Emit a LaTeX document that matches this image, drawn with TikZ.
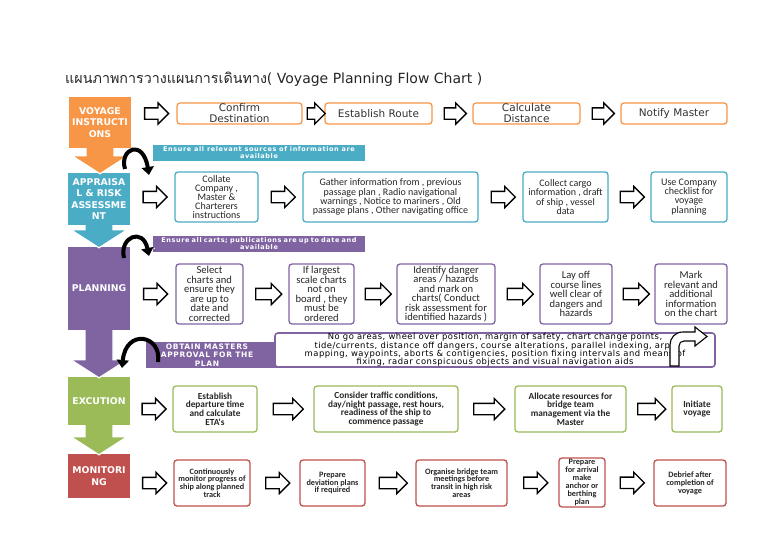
\documentclass[tikz,border=0pt]{standalone}
\usepackage{graphicx}
\usepackage{fontspec}
\setmainfont{DejaVu Sans}
\newfontfamily\thaifont[Script=Thai]{Loma}
\newfontfamily\carl{Carlito}
\newfontfamily\spaced[LetterSpace=9]{DejaVu Sans}
\newfontfamily\spacedb[LetterSpace=6]{DejaVu Sans}
\usetikzlibrary{shapes.arrows,calc,arrows.meta}
\definecolor{cor}{HTML}{F79646}
\definecolor{cte}{HTML}{4BACC6}
\definecolor{cpu}{HTML}{8064A2}
\definecolor{cgr}{HTML}{9BBB59}
\definecolor{cre}{HTML}{C0504D}
\tikzset{
  stage/.style={fill=#1, text=white, font=\bfseries\fontsize{9.3}{11.5}\selectfont, align=center, inner sep=0pt, minimum width=62pt},
  box/.style={draw=#1, fill=white, line width=1.3pt, rounded corners=3pt, align=center, inner sep=0pt, text=black!85},
  band/.style={fill=#1, text=white, align=center, inner sep=0pt, font=\spaced\bfseries\fontsize{6.5}{7}\selectfont},
  barrow/.style={single arrow, draw=black, fill=white, line width=1.3pt, inner xsep=0pt, inner ysep=5pt, single arrow head extend=5pt, minimum height=#1, anchor=center},
  barrow/.default=24pt,
  curv/.style={line width=4pt, -{Triangle[length=8pt,width=12pt]}},
  rA/.style={font=\fontsize{10.5}{11}\selectfont, text=black!80},
  rB/.style={font=\carl\fontsize{10}{9.2}\selectfont},
  rC/.style={font=\carl\fontsize{10.6}{9.5}\selectfont},
  rE/.style={font=\carl\bfseries\fontsize{9.3}{8.8}\selectfont},
  rF/.style={font=\carl\bfseries\fontsize{8.2}{7.9}\selectfont},
}
\newcommand\stagedown[3]{%
  \fill[#3] let \p1=(#1.south), \p2=(#2.north) in
    (\x1-14pt,\y1+0.5pt) -- (\x1-14pt,\y2+17pt) -- (\x1-28pt,\y2+17pt) -- (\x1,\y2-1pt)
    -- (\x1+28pt,\y2+17pt) -- (\x1+14pt,\y2+17pt) -- (\x1+14pt,\y1+0.5pt) -- cycle;
  \draw[white, line width=1.2pt] let \p1=(#1.south), \p2=(#2.north) in
    (\x1-14pt,\y1) -- (\x1-14pt,\y2+17pt) -- (\x1-28pt,\y2+17pt) -- (\x1,\y2-1pt)
    -- (\x1+28pt,\y2+17pt) -- (\x1+14pt,\y2+17pt) -- (\x1+14pt,\y1);
}
\begin{document}
\begin{tikzpicture}[x=1pt,y=-1pt]
\useasboundingbox[fill=white] (0,0) rectangle (768,543);
% title
\node[anchor=base west, inner sep=0pt, text=black!85] (title) at (65,83) {{\thaifont\fontsize{14.3}{17}\selectfont แผนภาพการวางแผนการเดินทาง}{\fontsize{14}{17}\selectfont( Voyage Planning Flow Chart )}};
% stage boxes
\node[stage=cor, minimum height=51pt] (s1) at (100,122.5) {VOYAGE\\INSTRUCTI\\ONS};
\node[stage=cte, minimum height=52pt] (s2) at (99,199) {APPRAISA\\L \& RISK\\ASSESSME\\NT};
\node[stage=cpu, minimum height=83pt] (s3) at (99,288.5) {PLANNING};
\node[stage=cgr, minimum height=48pt] (s4) at (99,401) {EXCUTION};
\node[stage=cre, minimum height=44pt] (s5) at (99,476) {MONITORI\\NG};
\stagedown{s1}{s2}{cor}
\stagedown{s2}{s3}{cte}
\stagedown{s3}{s4}{cpu}
\stagedown{s4}{s5}{cgr}
% row 1
\node[box=cor, rA, minimum width=125pt, minimum height=21pt] (r1a) at (239.5,113.5) {Confirm\\Destination};
\node[box=cor, rA, minimum width=107pt, minimum height=21pt] (r1b) at (378.5,113.5) {Establish Route};
\node[box=cor, rA, minimum width=107pt, minimum height=21pt] (r1c) at (526.5,113.5) {Calculate\\Distance};
\node[box=cor, rA, minimum width=106pt, minimum height=21pt] (r1d) at (674,113.5) {Notify Master};
\node[barrow] (a10) at ($(s1.east |- r1a.west)!0.5!(r1a.west)$) {};
\node[barrow=18pt] (a11) at ($(r1a.east)!0.5!(r1b.west)$) {};
\node[barrow=22pt] (a12) at ($(r1b.east)!0.5!(r1c.west)$) {};
\node[barrow=22pt] (a13) at ($(r1c.east)!0.5!(r1d.west)$) {};
% row 2
\node[band=cte, minimum width=212pt, minimum height=16pt] (b1) at (259,153) {Ensure all relevant sources of information are\\available};
\coordinate (c1s) at (125,169);
\coordinate (c1e) at (149,175);
\draw[curv] (c1s) .. controls (119,149) and (143,138) .. (c1e);
\node[box=cte, rB, minimum width=83pt, minimum height=50pt] (r2a) at (216.5,197) {Collate\\Company ,\\Master \&\\Charterers\\instructions};
\node[box=cte, rB, minimum width=175pt, minimum height=50pt] (r2b) at (390.5,197) {Gather information from , previous\\passage plan , Radio navigational\\warnings , Notice to mariners , Old\\passage plans , Other navigating office};
\node[box=cte, rB, minimum width=85pt, minimum height=50pt] (r2c) at (565.5,197) {Collect cargo\\information , draft\\of ship , vessel\\data};
\node[box=cte, rB, minimum width=76pt, minimum height=50pt] (r2d) at (689,197) {Use Company\\checklist for\\voyage\\planning};
\node[barrow] (a20) at ($(s2.east |- r2a.west)!0.5!(r2a.west)$) {};
\node[barrow] (a21) at ($(r2a.east)!0.5!(r2b.west)$) {};
\node[barrow] (a22) at ($(r2b.east)!0.5!(r2c.west)$) {};
\node[barrow] (a23) at ($(r2c.east)!0.5!(r2d.west)$) {};
% row 3
\node[band=cpu, text width=212pt, minimum height=16pt] (b2) at (259,244) {Ensure all carts; publications are up to date and\\\makebox[\linewidth]{.\hfill available\hfill\phantom{.}}};
\coordinate (c2s) at (124,258);
\coordinate (c2e) at (149,256);
\draw[curv] (c2s) .. controls (119,237) and (143,227) .. (c2e);
\node[box=cpu, rC, minimum width=67pt, minimum height=60pt] (r3a) at (209.5,294) {Select\\charts and\\ensure they\\are up to\\date and\\corrected};
\node[box=cpu, rC, minimum width=65pt, minimum height=60pt] (r3b) at (321.5,294) {If largest\\scale charts\\not on\\board , they\\must be\\ordered};
\node[box=cpu, rC, minimum width=98pt, minimum height=60pt] (r3c) at (446,294) {Identify danger\\areas / hazards\\and mark on\\charts( Conduct\\risk assessment for\\identified hazards )};
\node[box=cpu, rC, minimum width=72pt, minimum height=60pt] (r3d) at (576,294) {Lay off\\course lines\\well clear of\\dangers and\\hazards};
\node[box=cpu, rC, minimum width=72pt, minimum height=60pt] (r3e) at (691,294) {Mark\\relevant and\\additional\\information\\on the chart};
\node[barrow] (a30) at ($(s3.east |- r3a.west)!0.5!(r3a.west)$) {};
\node[barrow=26pt] (a31) at ($(r3a.east)!0.5!(r3b.west)$) {};
\node[barrow=26pt] (a32) at ($(r3b.east)!0.5!(r3c.west)$) {};
\node[barrow=26pt] (a33) at ($(r3c.east)!0.5!(r3d.west)$) {};
\node[barrow=26pt] (a34) at ($(r3d.east)!0.5!(r3e.west)$) {};
% row 4
\node[band=cpu, minimum width=137pt, minimum height=26pt, font=\spaced\bfseries\fontsize{7.5}{8.6}\selectfont] (b3) at (214,355) {OBTAIN MASTERS\hspace*{14pt}\null\\APPROVAL FOR THE\hspace*{14pt}\null\\PLAN\hspace*{14pt}\null};
\node[box=cpu, line width=1.6pt, minimum width=440pt, minimum height=34pt, font=\spacedb\fontsize{8.4}{8.3}\selectfont, text=black] (r4) at (495,350) {No go areas, wheel over position, margin of safety, chart change points,\\tide/currents, distance off dangers, course alterations, parallel indexing, arpa\\mapping, waypoints, aborts \& contigencies, position fixing intervals and means of\\fixing, radar conspicuous objects and visual navigation aids};
\coordinate (c3s) at (158,362);
\coordinate (c3e) at (122,368);
\draw[curv] (c3s) .. controls (162,335) and (126,328) .. (c3e);
\filldraw[fill=white, draw=black, line width=1.1pt] (670,366) -- (670,345) .. controls (670,338) and (675,332) .. (683,332) -- (695,332) -- (695,327) -- (707,336.5) -- (695,346) -- (695,341) -- (684,341) .. controls (681,341) and (679,343) .. (679,346) -- (679,366) -- cycle;
% row 5
\node[box=cgr, rE, minimum width=84pt, minimum height=46pt] (r5a) at (215,409) {Establish\\departure time\\and calculate\\ETA's};
\node[box=cgr, rE, minimum width=144pt, minimum height=46pt] (r5b) at (386,409) {Consider traffic conditions,\\day/night passage, rest hours,\\readiness of the ship to\\commence passage};
\node[box=cgr, rE, minimum width=111pt, minimum height=46pt] (r5c) at (570.5,409) {Allocate resources for\\bridge team\\management via the\\Master};
\node[box=cgr, rE, minimum width=50pt, minimum height=46pt] (r5d) at (697,409) {Initiate\\voyage};
\node[barrow] (a50) at ($(s4.east |- r5a.west)!0.5!(r5a.west)$) {};
\node[barrow=30pt] (a51) at ($(r5a.east)!0.5!(r5b.west)$) {};
\node[barrow=31pt] (a52) at ($(r5b.east)!0.5!(r5c.west)$) {};
\node[barrow=28pt] (a53) at ($(r5c.east)!0.5!(r5d.west)$) {};
% row 6
\node[box=cre, rF, minimum width=76pt, minimum height=46pt] (r6a) at (212,483) {Continuously\\monitor progress of\\ship along planned\\track};
\node[box=cre, rF, minimum width=65pt, minimum height=46pt] (r6b) at (332.5,483) {Prepare\\deviation plans\\if required};
\node[box=cre, rF, minimum width=91pt, minimum height=46pt] (r6c) at (461.5,483) {Organise bridge team\\meetings before\\transit in high risk\\areas};
\node[box=cre, rF, minimum width=46pt, minimum height=49pt] (r6d) at (582,482.5) {Prepare\\for arrival\\make\\anchor or\\berthing\\plan};
\node[box=cre, rF, minimum width=72pt, minimum height=46pt] (r6e) at (690,483) {Debrief after\\completion of\\voyage};
\node[barrow] (a60) at ($(s5.east |- r6a.west)!0.5!(r6a.west)$) {};
\node[barrow] (a61) at ($(r6a.east)!0.5!(r6b.west)$) {};
\node[barrow=28pt] (a62) at ($(r6b.east)!0.5!(r6c.west)$) {};
\node[barrow] (a63) at ($(r6c.east)!0.5!(r6d.west)$) {};
\node[barrow] (a64) at ($(r6d.east)!0.5!(r6e.west)$) {};
\end{tikzpicture}
\end{document}
